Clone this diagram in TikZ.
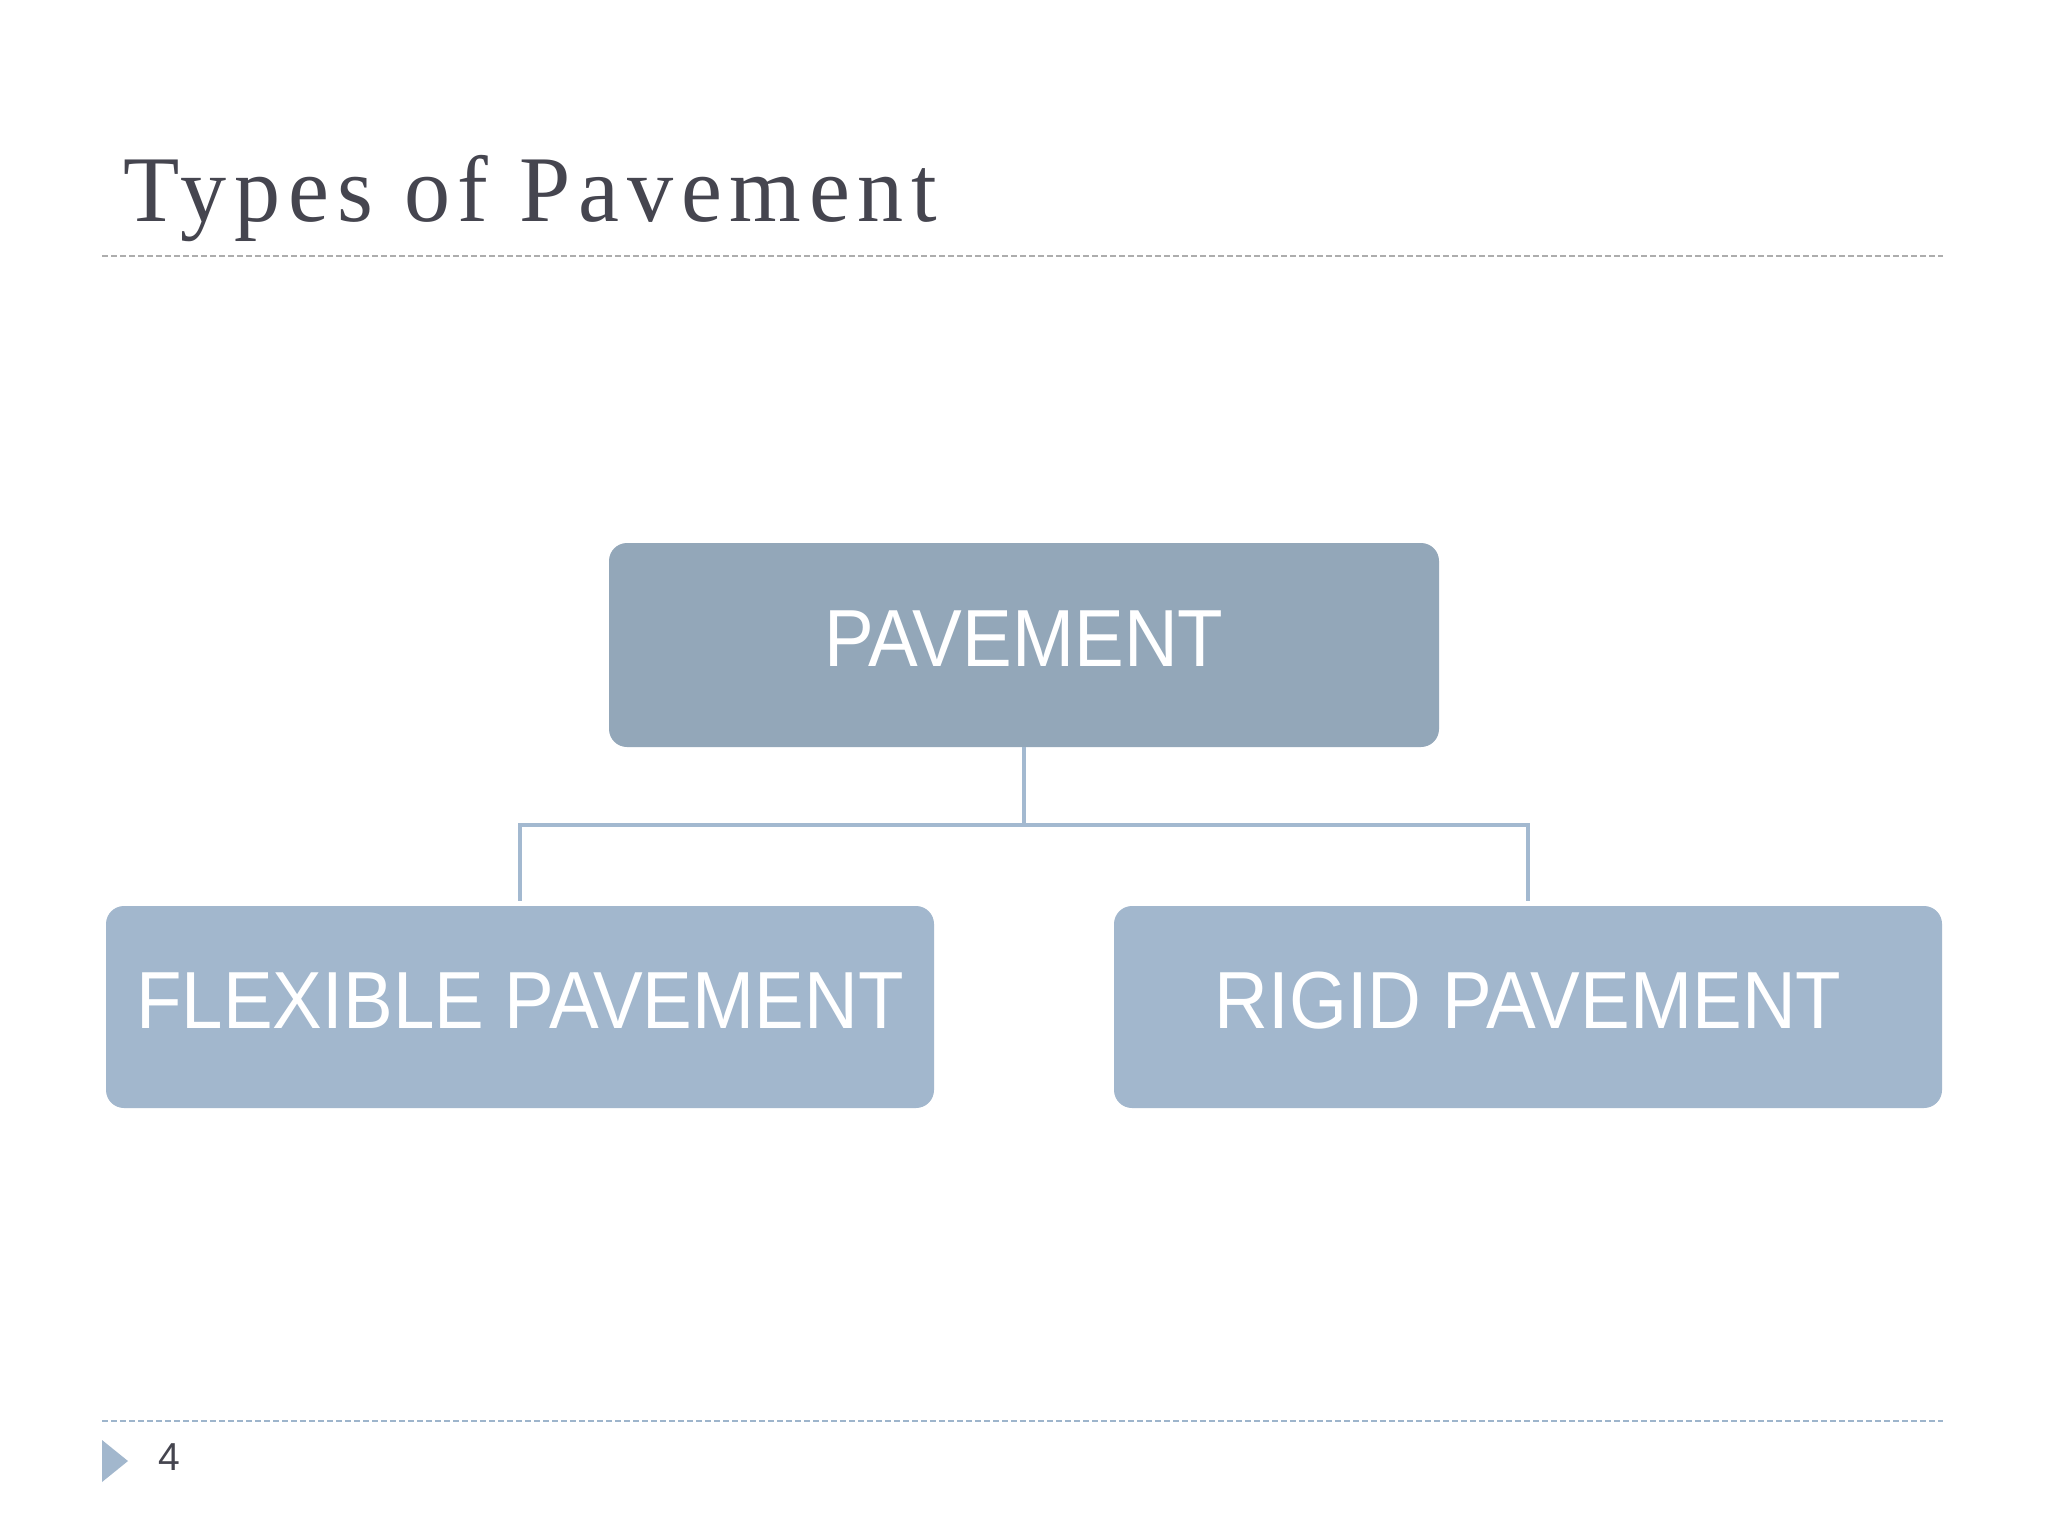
\documentclass[tikz,border=0pt]{standalone}
\usepackage{fontspec}
\setmainfont{Liberation Serif}
\newfontfamily\boxfont[FakeStretch=0.92]{Liberation Sans}
\newfontfamily\titlefont[FakeStretch=0.98,LetterSpace=8.3]{Liberation Serif}
\newfontfamily\numfont{Liberation Sans}
\usetikzlibrary{calc}
\definecolor{titlegray}{rgb}{0.27, 0.27, 0.31}
\definecolor{rulegray}{rgb}{0.68, 0.68, 0.68}
\definecolor{ruleblue}{rgb}{0.62, 0.71, 0.80}
\definecolor{topbox}{rgb}{0.576, 0.655, 0.725}
\definecolor{subbox}{rgb}{0.635, 0.718, 0.804}
\definecolor{linkblue}{rgb}{0.64, 0.725, 0.816}
\tikzset{
  pavbox/.style={rounded corners=9pt,inner sep=0pt,text=white,text depth=6.5pt,
    font=\boxfont\fontsize{40.5}{45}\selectfont},
  link/.style={linkblue,line width=2pt},
  rule/.style={line width=0.75pt,dash pattern=on 3pt off 1.5pt}
}

\begin{document}
\begin{tikzpicture}[x=0.5pt,y=-0.5pt]
			\useasboundingbox[fill=white] (0,0) rectangle (2048,1536);
			\coordinate (P) at (1024,645);
			\coordinate (F) at (520,1007);
			\coordinate (R) at (1528,1007);
			\coordinate (bus) at (1024,825);
			
			\node[anchor=base west,inner sep=0pt,titlegray,font=\titlefont\fontsize{47}{56}\selectfont] (title) at (123,221) {Types of Pavement};
			\draw[rule,rulegray] (102,256) -- (1943,256);
			\draw[rule,ruleblue] (102,1421) -- (1943,1421);
			\fill[subbox] (102,1440) -- (128,1461) -- (102,1482) -- cycle;
			\node[anchor=base west,inner sep=0pt,text=titlegray,font=\numfont\fontsize{19.5}{22}\selectfont] (page) at (158,1470) {4};
			
			\node[pavbox,fill=topbox,minimum width=415pt,minimum height=102pt] (pav) at (P) {PAVEMENT};
			\node[pavbox,fill=subbox,minimum width=414pt,minimum height=101pt] (flex) at (F) {FLEXIBLE PAVEMENT};
			\node[pavbox,fill=subbox,minimum width=414pt,minimum height=101pt] (rigid) at (R) {RIGID PAVEMENT};
			
			\draw[link] (pav.south) -- (bus);
			\draw[link,shorten >=2.5pt] (bus) -| (flex.north);
			\draw[link,shorten >=2.5pt] (bus) -| (rigid.north);
			\end{tikzpicture}
\end{document}
